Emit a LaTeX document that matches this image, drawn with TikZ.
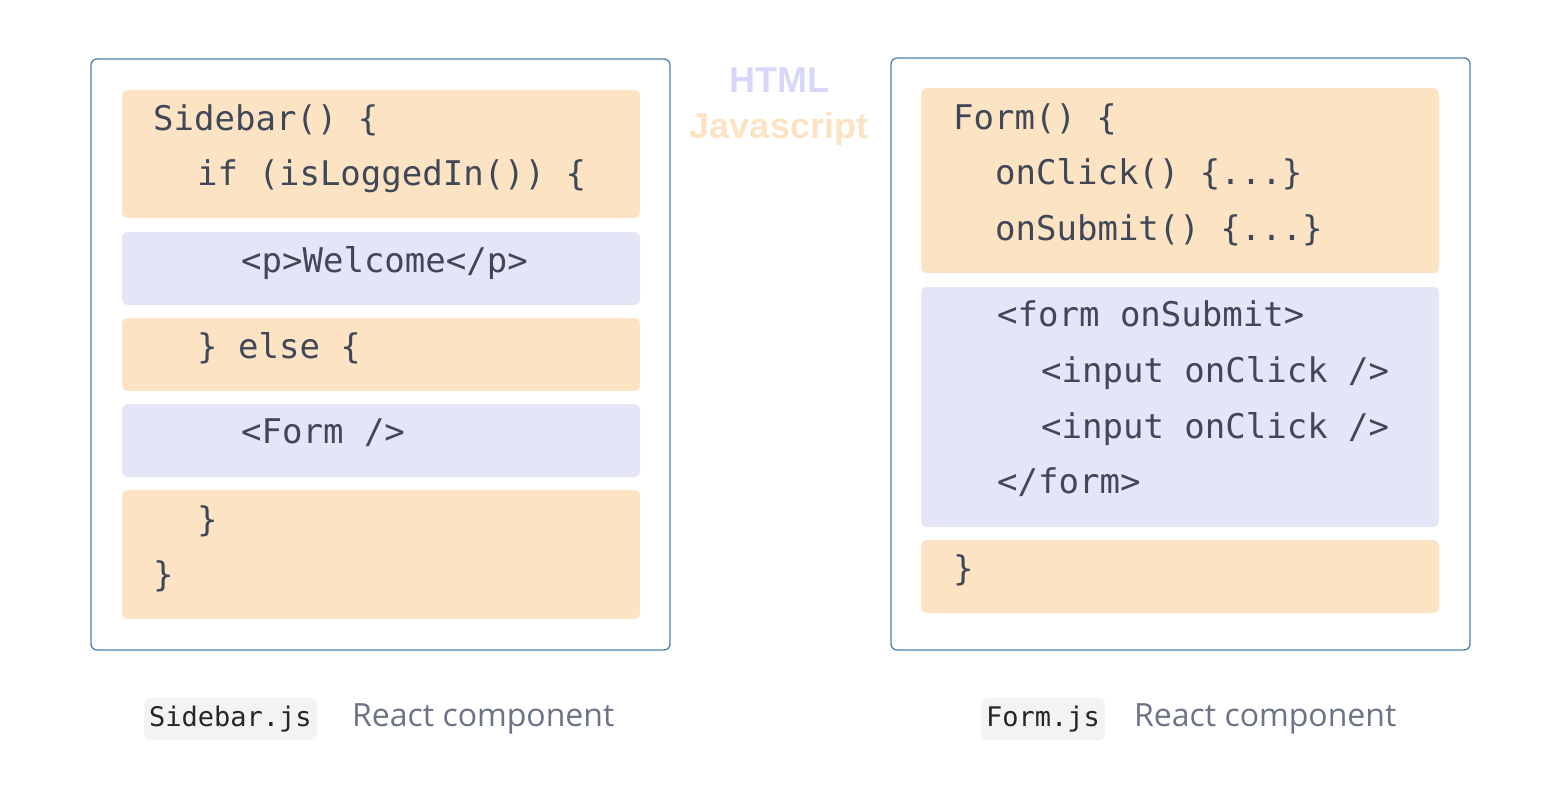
\documentclass[tikz,border=0pt]{standalone}
\usepackage{fontspec}
\setmainfont{Liberation Sans}
\newfontfamily\codef{DejaVu Sans Mono}
\newfontfamily\labf{Open Sans}
\definecolor{org}{HTML}{FCE3C4}
\definecolor{blu}{HTML}{E4E6F7}
\definecolor{brd}{HTML}{4E7FAE}
\definecolor{txt}{HTML}{404756}
\definecolor{chip}{HTML}{F2F3F5}
\definecolor{cap}{HTML}{6B7389}
\begin{document}
\begin{tikzpicture}[x=1pt,y=-1pt,
  outer/.style={draw=brd,line width=1.3pt,rounded corners=6pt},
  ob/.style={fill=org,rounded corners=6pt},
  bb/.style={fill=blu,rounded corners=6pt},
  code/.style={anchor=mid west,inner sep=0,text=txt,font=\codef\fontsize{34}{34}\selectfont},
  chipn/.style={fill=chip,rounded corners=6pt,text=black!85,font=\codef\fontsize{27}{27}\selectfont,inner xsep=5pt,inner ysep=8pt,anchor=mid west},
  capn/.style={anchor=mid west,inner sep=0,text=cap,font=\labf\fontsize{32}{32}\selectfont}]
\useasboundingbox (0,0) rectangle (1562,808);
% left
\draw[outer] (91,59) rectangle (670,650);
\fill[ob] (122,90) rectangle (640,218);
\fill[bb] (122,232) rectangle (640,305);
\fill[ob] (122,318) rectangle (640,391);
\fill[bb] (122,404) rectangle (640,477);
\fill[ob] (122,490) rectangle (640,619);
\node[code] (l1) at (153,128) {Sidebar() \{};
\node[code] (l2) at (197,183) {if (isLoggedIn()) \{};
\node[code] (l3) at (241,270) {<p>Welcome</p>};
\node[code] (l4) at (197,356) {\} else \{};
\node[code] (l5) at (241,441) {<Form />};
\node[code] (l6) at (197,529) {\}};
\node[code] (l7) at (153,584) {\}};
% right
\draw[outer] (891,58) rectangle (1470,650);
\fill[ob] (921,88) rectangle (1439,273);
\fill[bb] (921,287) rectangle (1439,527);
\fill[ob] (921,540) rectangle (1439,613);
\node[code] (r1) at (953,127) {Form() \{};
\node[code] (r2) at (995,182) {onClick() \{...\}};
\node[code] (r3) at (995,238) {onSubmit() \{...\}};
\node[code] (r4) at (997,324) {<form onSubmit>};
\node[code] (r5) at (1041,380) {<input onClick />};
\node[code] (r6) at (1041,436) {<input onClick />};
\node[code] (r7) at (997,491) {</form>};
\node[code] (r8) at (953,578) {\}};
% legend
\node[font=\bfseries\fontsize{36}{36}\selectfont,text=blu!90!blue!80] (h) at (779,80) {HTML};
\node[font=\bfseries\fontsize{36}{36}\selectfont,text=org] (j) at (779,129) {Javascript};
% captions
\node[chipn] (c1) at (144,724) {Sidebar.js};
\node[capn] (t1) at (352,724) {React component};
\node[chipn] (c2) at (981,724) {Form.js};
\node[capn] (t2) at (1134,724) {React component};
\end{tikzpicture}
\end{document}
